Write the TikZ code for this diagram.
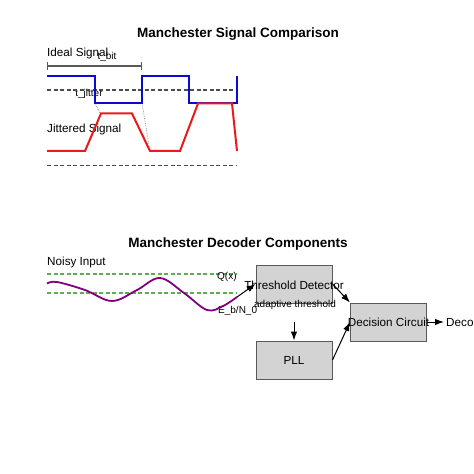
\documentclass[tikz,border=0pt]{standalone}
\usepackage{fontspec}
\setmainfont{Liberation Sans}
\usepackage{tikz}
\usetikzlibrary{shapes,arrows,arrows.meta}
\definecolor{sigblue}{RGB}{10,10,210}
\definecolor{sigred}{RGB}{235,25,25}
\definecolor{noisepurple}{RGB}{128,0,128}
\definecolor{thrgreen}{RGB}{90,175,80}
\definecolor{boxgray}{RGB}{211,211,211}
\tikzstyle{block} = [rectangle, draw=black!65, fill=boxgray, line width=1bp,
    text centered, minimum width=76bp, minimum height=38bp, inner sep=0pt]
\tikzstyle{line} = [draw, -{Latex[length=9bp,width=6.5bp]}, line width=1bp]
\tikzstyle{label} = [inner sep=0pt, anchor=base west, font=\fontsize{11.7bp}{14bp}\selectfont]
\tikzstyle{small} = [inner sep=0pt, anchor=base, font=\fontsize{10bp}{12bp}\selectfont]
\tikzstyle{title} = [inner sep=0pt, anchor=base, font=\fontsize{13.5bp}{16bp}\selectfont\bfseries]

\begin{document}
\begin{tikzpicture}[x=1bp, y=-1bp, line join=miter,
  refline/.style={dash pattern=on 4bp off 2.5bp, black!70, line width=1.2bp},
  wave/.style={line width=2bp}]
\useasboundingbox (0,0) rectangle (474,474);
\clip (0,0) rectangle (474,474);

% signal comparison
\node [title] at (238,38) (sigtitle) {Manchester Signal Comparison};
\node [label] at (47,56.5) (ideal) {Ideal Signal};
\node [label] at (47,132.5) (jitter) {Jittered Signal};
\draw [|-|, black!65, line width=1.2bp] (47,66) -- (142,66);
\node [small] at (107,60) (tbit) {t\_bit};
\node [small] at (89,97) (tjit) {t\_jitter};
\draw [refline] (47,90) -- (237,90);
\draw [refline] (47,165.5) -- (237,165.5);
\draw [densely dotted, black!45, line width=0.7bp] (95,103) -- (100,113);
\draw [densely dotted, black!45, line width=0.7bp] (142,103) -- (150,151);
\draw [wave, sigblue] (47,76) -- (95,76) -- (95,103) -- (142,103) -- (142,76)
  -- (189,76) -- (189,103) -- (236.5,103) -- (236.5,76);
\draw [wave, sigred] (47,151) -- (85,151) -- (101,113.5) -- (132,113.5) -- (150,151)
  -- (180,151) -- (198,103.5) -- (232,103.5) -- (237,151);

% decoder components
\node [title] at (238,247) (dectitle) {Manchester Decoder Components};
\node [label] at (47,265.5) (noisy) {Noisy Input};
\draw [dash pattern=on 4bp off 2.5bp, thrgreen, line width=1.1bp] (47,274) -- (236,274);
\draw [dash pattern=on 4bp off 2.5bp, thrgreen, line width=1.1bp] (47,293) -- (236,293);
\node [small, anchor=base west] at (217,279) (qx) {Q(x)};
\node [small, anchor=base west] at (218,313) (ebn) {E\_b/N\_0};
\draw [wave, noisepurple, line width=1.8bp] plot [smooth, tension=0.6] coordinates {
  (47,283.5) (57,282) (85,290) (112,301) (137,290) (160,278) (184,293) (207,310)
  (223,306) (237,297)};
\coordinate (wend) at (237,297);

\node [block] at (294,284) (td) {};
\node [inner sep=0pt, font=\fontsize{11.7bp}{14bp}\selectfont] at (294,285) (tdtext) {Threshold Detector};
\node [small] at (295,307) (adapt) {adaptive threshold};
\node [block] at (388.5,322) (dc) {};
\node [inner sep=0pt, font=\fontsize{11.7bp}{14bp}\selectfont] at (388.5,322) (dctext) {Decision Circuit};
\node [block, font=\fontsize{11.7bp}{14bp}\selectfont] at (294,360) (pll) {PLL};
\node [inner sep=2pt, anchor=west, font=\fontsize{11.7bp}{14bp}\selectfont] at (444,322) (out) {Decoded};
\coordinate (adaptout) at (294,322);

\draw [line] (wend) -- (td.west);
\draw [line] (td.east) -- (dc.north west);
\draw [line] (adaptout) -- (pll.north);
\draw [line] (pll.east) -- (dc.west);
\draw [line] (dc.east) -- (out.west);
\end{tikzpicture}
\end{document}
